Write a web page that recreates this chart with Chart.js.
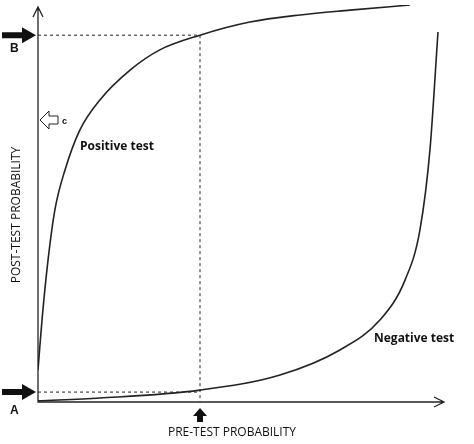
<!DOCTYPE html>
<html><head><meta charset="utf-8">
<script src="https://cdn.jsdelivr.net/npm/chart.js@4"></script>
<style>body{margin:0;background:#fff}#wrap{width:474px;height:444px}</style>
</head><body><div id="wrap"><canvas id="c"></canvas></div>
<script>
// curve points, % of axis range
const posX = [0, 1, 2.5, 4.2, 6.7, 10.4, 15.4, 22.9, 30.3, 40.3, 52.7, 65.2, 77.6, 92.5];
const posY = [8.1, 20.7, 35.8, 48.4, 58.4, 68.5, 76.1, 83.6, 88.7, 92.4, 95.7, 97.5, 98.7, 100];
const negX = [0, 15.4, 40.3, 60.2, 75.1, 85.1, 91.3, 95, 97.5, 99.5];
const negY = [0.3, 1, 3, 6.8, 13.1, 20.7, 30.7, 43.3, 63.5, 93.2];
const preTest = 40.3, postB = 92.4, postA = 2.5;

const pts = (xs, ys) => xs.map((x, i) => ({x, y: ys[i]}));

const decor = {
  id: 'decor',
  afterDraw(chart) {
    const {ctx, chartArea: a, scales: {x, y}} = chart;
    ctx.save();
    ctx.strokeStyle = '#222'; ctx.fillStyle = '#111'; ctx.lineWidth = 1.3;
    // axes with arrow heads
    ctx.beginPath();
    ctx.moveTo(a.left, a.top + 2); ctx.lineTo(a.left, a.bottom); ctx.lineTo(a.right + 4, a.bottom);
    ctx.moveTo(a.left - 5, a.top + 12); ctx.lineTo(a.left, a.top + 2); ctx.lineTo(a.left + 5, a.top + 12);
    ctx.moveTo(a.right - 6, a.bottom - 5); ctx.lineTo(a.right + 4, a.bottom); ctx.lineTo(a.right - 6, a.bottom + 5);
    ctx.stroke();
    // filled arrows B and A
    const fat = (yy) => {
      ctx.beginPath();
      ctx.moveTo(2, yy - 3); ctx.lineTo(22, yy - 3); ctx.lineTo(22, yy - 8);
      ctx.lineTo(36, yy); ctx.lineTo(22, yy + 8); ctx.lineTo(22, yy + 3); ctx.lineTo(2, yy + 3);
      ctx.closePath(); ctx.fill();
    };
    fat(y.getPixelForValue(postB)); fat(y.getPixelForValue(postA));
    // up arrow under x axis
    const px = x.getPixelForValue(preTest), by = a.bottom + 6;
    ctx.beginPath();
    ctx.moveTo(px, by); ctx.lineTo(px + 7, by + 8); ctx.lineTo(px + 3, by + 8); ctx.lineTo(px + 3, by + 14);
    ctx.lineTo(px - 3, by + 14); ctx.lineTo(px - 3, by + 8); ctx.lineTo(px - 7, by + 8); ctx.closePath(); ctx.fill();
    // hollow arrow C
    const cy = 120, cx = a.left + 2;
    ctx.fillStyle = '#fff'; ctx.lineWidth = 1;
    ctx.beginPath();
    ctx.moveTo(cx, cy); ctx.lineTo(cx + 9, cy - 9); ctx.lineTo(cx + 9, cy - 4); ctx.lineTo(cx + 18, cy - 4);
    ctx.lineTo(cx + 18, cy + 4); ctx.lineTo(cx + 9, cy + 4); ctx.lineTo(cx + 9, cy + 9); ctx.closePath();
    ctx.fill(); ctx.stroke();
    // texts
    ctx.fillStyle = '#111';
    ctx.font = 'bold 12px "Liberation Sans", Arial';
    ctx.fillText('B', 10, 52); ctx.fillText('A', 10, 414);
    ctx.font = 'bold 9px "Liberation Sans", Arial';
    ctx.fillText('c', 62, 124);
    ctx.font = 'bold 12px "Open Sans", "Liberation Sans"';
    ctx.fillText('Positive test', 80, 150);
    ctx.fillText('Negative test', 374, 342);
    ctx.font = '12px "Open Sans", "Liberation Sans"';
    ctx.textAlign = 'center';
    ctx.fillText('PRE-TEST PROBABILITY', 232, 436);
    ctx.translate(20, 215); ctx.rotate(-Math.PI / 2);
    ctx.fillText('POST-TEST PROBABILITY', 0, 0);
    ctx.restore();
  }
};

const dash = {borderColor: '#222', borderWidth: 1, borderDash: [3, 3], pointRadius: 0, tension: 0};
new Chart('c', {
  type: 'scatter',
  data: {
    datasets: [
      {data: pts(posX, posY), showLine: true, borderColor: '#222', borderWidth: 1.6, pointRadius: 0, cubicInterpolationMode: 'monotone'},
      {data: pts(negX, negY), showLine: true, borderColor: '#222', borderWidth: 1.6, pointRadius: 0, cubicInterpolationMode: 'monotone'},
      {data: [{x: 0, y: postB}, {x: preTest, y: postB}, {x: preTest, y: 0}], showLine: true, ...dash},
      {data: [{x: 0, y: postA}, {x: preTest, y: postA}], showLine: true, ...dash}
    ]
  },
  options: {
    responsive: true, maintainAspectRatio: false, animation: false,
    layout: {padding: {left: 38, right: 34, top: 5, bottom: 42}},
    plugins: {legend: {display: false}, tooltip: {enabled: false}},
    scales: {
      x: {type: 'linear', min: 0, max: 100, display: false},
      y: {type: 'linear', min: 0, max: 100, display: false}
    }
  },
  plugins: [decor]
});
</script></body></html>
